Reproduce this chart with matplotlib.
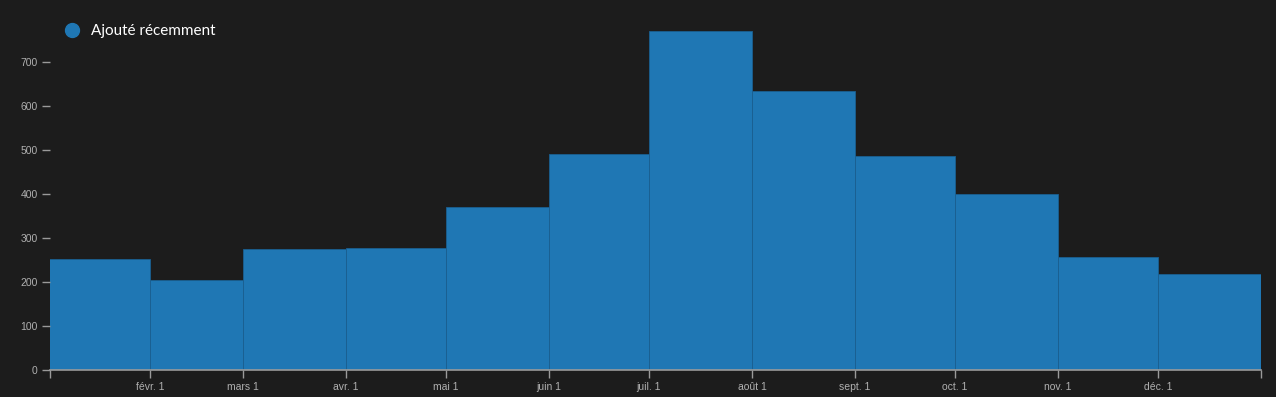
import datetime as dt
import matplotlib
matplotlib.use("Agg")
import matplotlib.pyplot as plt
import matplotlib.dates as mdates
from matplotlib.lines import Line2D

# monthly counts
months = [dt.date(2023, m, 1) for m in range(1, 13)]
counts = [252, 205, 275, 277, 370, 491, 770, 634, 486, 400, 257, 218]
tick_labels = ["", "févr. 1", "mars 1", "avr. 1", "mai 1", "juin 1", "juil. 1",
               "août 1", "sept. 1", "oct. 1", "nov. 1", "déc. 1", ""]
y_ticks = [0, 100, 200, 300, 400, 500, 600, 700]
series_name = "Ajouté récemment"

bg = "#1c1c1c"
bar_color = "#1f77b4"
grey = "#9a9a9a"

fig = plt.figure(figsize=(12.76, 3.97), dpi=100, facecolor=bg)
W, H = 1276, 397
ax = fig.add_axes([50 / W, (H - 370) / H, (1261 - 50) / W, (370 - 31) / H])
ax.set_facecolor(bg)

edges = months + [dt.date(2024, 1, 1)]
starts = mdates.date2num(months)
widths = [mdates.date2num(edges[i + 1]) - mdates.date2num(edges[i]) for i in range(12)]
ax.bar(starts, counts, width=widths, align="edge", color=bar_color,
       edgecolor="#1a5f90", linewidth=0.6)

# the visible range starts one day into january
x0 = mdates.date2num(dt.date(2023, 1, 2))
x1 = mdates.date2num(edges[-1])
ax.set_xlim(x0, x1)
ax.set_ylim(0, 770)

ax.set_xticks([x0] + list(mdates.date2num(edges[1:])))
ax.set_xticklabels(tick_labels)
ax.set_yticks(y_ticks)

for s in ["top", "right", "left"]:
    ax.spines[s].set_visible(False)
ax.spines["bottom"].set_color(grey)
ax.spines["bottom"].set_linewidth(1.2)

ax.tick_params(axis="both", colors=grey, labelcolor="#b0b0b0", length=6,
               width=1, labelsize=7.5)
ax.tick_params(axis="x", pad=3)
ax.tick_params(axis="y", pad=3)
for lbl in ax.get_xticklabels() + ax.get_yticklabels():
    lbl.set_family("Liberation Sans")

handle = Line2D([], [], marker="o", linestyle="none", markersize=10,
                markerfacecolor=bar_color, markeredgecolor=bar_color)
leg = fig.legend([handle], [series_name], loc="center left",
                 bbox_to_anchor=(51 / W, 1 - 31 / H), frameon=False,
                 handletextpad=0.2, borderaxespad=0,
                 prop={"family": "Lato", "size": 11})
for t in leg.get_texts():
    t.set_color("white")

fig.savefig("out.png", dpi=100, facecolor=bg)
